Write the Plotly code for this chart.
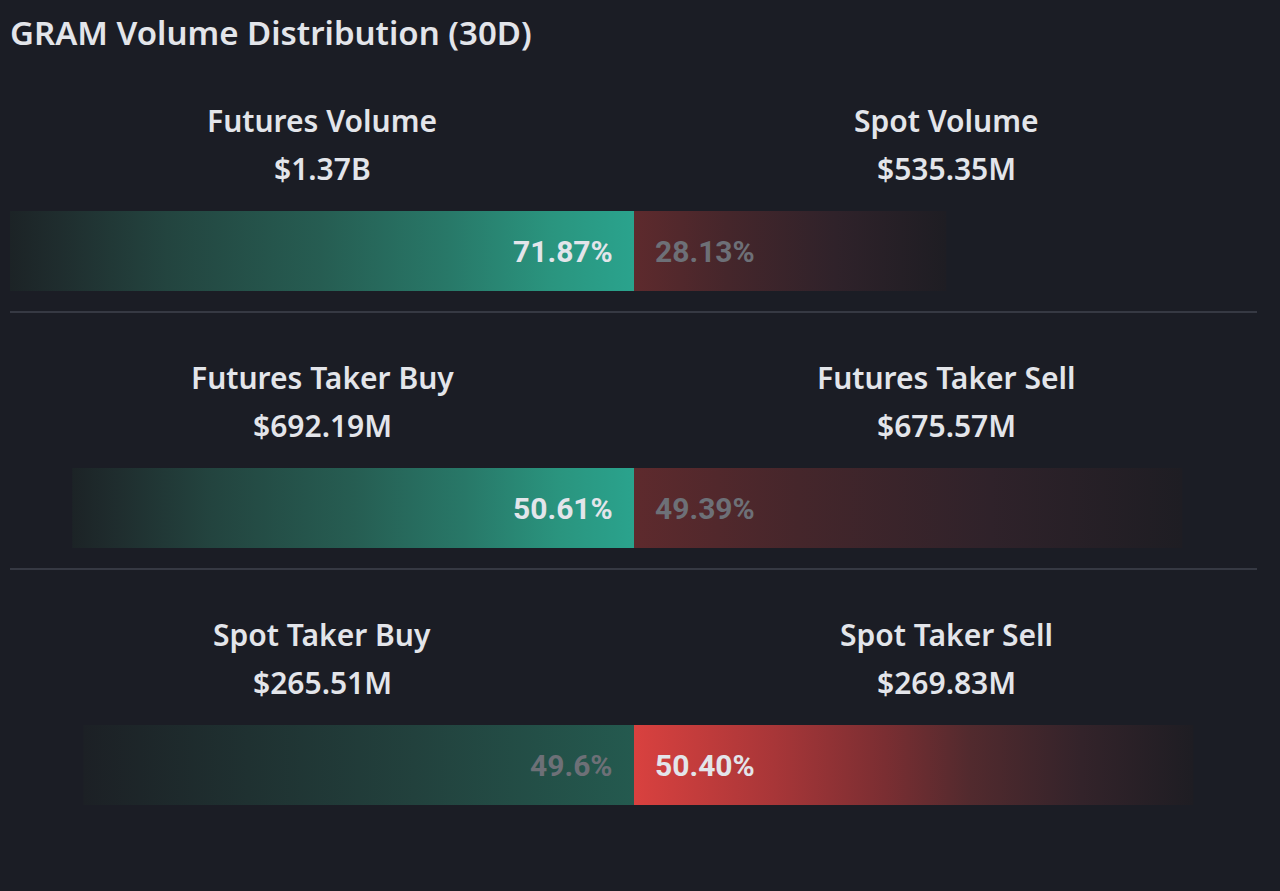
import plotly.graph_objects as go

# ---- data ----
title_text = "GRAM Volume Distribution (30D)"
left_labels = ["Futures Volume", "Futures Taker Buy", "Spot Taker Buy"]
right_labels = ["Spot Volume", "Futures Taker Sell", "Spot Taker Sell"]
left_values = ["$1.37B", "$692.19M", "$265.51M"]
right_values = ["$535.35M", "$675.57M", "$269.83M"]
left_pct = [71.87, 50.61, 49.6]
right_pct = [28.13, 49.39, 50.40]
left_pct_text = ["71.87%", "50.61%", "49.6%"]
right_pct_text = ["28.13%", "49.39%", "50.40%"]

# ---- style ----
BG = "#1b1d25"
TXT = "#e3e5ea"
DIM = "#6d7077"
W, H = 1280, 891
CENTER_PX = 634
PX_PER_PCT = 11.1
X_MIN = -CENTER_PX / PX_PER_PCT
X_MAX = (W - CENTER_PX) / PX_PER_PCT
CLIP = -(CENTER_PX - 10) / PX_PER_PCT

teal_bright = [[0, "#1c2326"], [0.08, "#1f2d2e"], [0.25, "#23443f"], [0.5, "#265d52"],
               [0.7, "#287868"], [0.87, "#2a957f"], [1, "#2aa38d"]]
teal_dim = [[0, "#1c2025"], [0.3, "#1f3131"], [0.6, "#22413d"], [1, "#245a4f"]]
red_bright = [[0, "#1e1d23"], [0.2, "#33232a"], [0.4, "#522a2e"], [0.55, "#7a2e32"],
              [0.75, "#a83638"], [1, "#d9413f"]]
red_dim = [[0, "#1e1d23"], [0.35, "#2f222a"], [0.7, "#45262b"], [1, "#5e2a2d"]]

ROW_Y0 = 251
ROW_STEP = 257
BAR_H = 80

fig = go.Figure()

for i in range(3):
    yc = ROW_Y0 + i * ROW_STEP
    y0, y1 = yc - BAR_H / 2, yc + BAR_H / 2
    left_win = left_pct[i] >= right_pct[i]
    # left bar
    xl = max(-left_pct[i], CLIP)
    fig.add_trace(go.Scatter(
        x=[xl, 0, 0, xl, xl], y=[y0, y0, y1, y1, y0], mode="lines",
        fill="toself", line=dict(width=0), hoverinfo="skip", showlegend=False,
        fillgradient=dict(type="horizontal",
                          colorscale=teal_bright if left_win else teal_dim,
                          start=xl, stop=0)))
    # right bar
    xr = min(right_pct[i], X_MAX)
    fig.add_trace(go.Scatter(
        x=[0, xr, xr, 0, 0], y=[y0, y0, y1, y1, y0], mode="lines",
        fill="toself", line=dict(width=0), hoverinfo="skip", showlegend=False,
        fillgradient=dict(type="horizontal",
                          colorscale=red_dim if left_win else red_bright,
                          start=xr, stop=0)))
    # headings
    for xp, lab, val in [(322 / W, left_labels[i], left_values[i]),
                         (946 / W, right_labels[i], right_values[i])]:
        fig.add_annotation(x=xp, xref="paper", y=yc - 131, yref="y", text=lab,
                           showarrow=False, xanchor="center", yanchor="middle",
                           font=dict(family="Noto Sans", size=30, color=TXT, weight=600))
        fig.add_annotation(x=xp, xref="paper", y=yc - 83, yref="y", text=val,
                           showarrow=False, xanchor="center", yanchor="middle",
                           font=dict(family="Noto Sans", size=30, color=TXT, weight=600))
    # percentages
    fig.add_annotation(x=-1.7, y=yc, xref="x", yref="y", text=left_pct_text[i],
                       showarrow=False, xanchor="right", yanchor="middle",
                       font=dict(family="Roboto", size=30, color=TXT if left_win else DIM, weight=700))
    fig.add_annotation(x=1.7, y=yc, xref="x", yref="y", text=right_pct_text[i],
                       showarrow=False, xanchor="left", yanchor="middle",
                       font=dict(family="Roboto", size=30, color=DIM if left_win else TXT, weight=700))
    # separator
    if i < 2:
        fig.add_shape(type="line", xref="paper", yref="y", x0=10 / W, x1=1257 / W,
                      y0=yc + 61, y1=yc + 61, line=dict(color="#363943", width=2))

fig.add_annotation(x=8 / W, xref="paper", y=32, yref="y", text=title_text,
                   showarrow=False, xanchor="left", yanchor="middle",
                   font=dict(family="Noto Sans", size=33, color=TXT, weight=600))

fig.update_layout(
    width=W, height=H, margin=dict(l=0, r=0, t=0, b=0),
    paper_bgcolor=BG, plot_bgcolor=BG, showlegend=False,
    xaxis=dict(range=[X_MIN, X_MAX], visible=False, fixedrange=True),
    yaxis=dict(range=[H, 0], visible=False, fixedrange=True),
)

fig.write_html("out.html", config={"displayModeBar": False})
